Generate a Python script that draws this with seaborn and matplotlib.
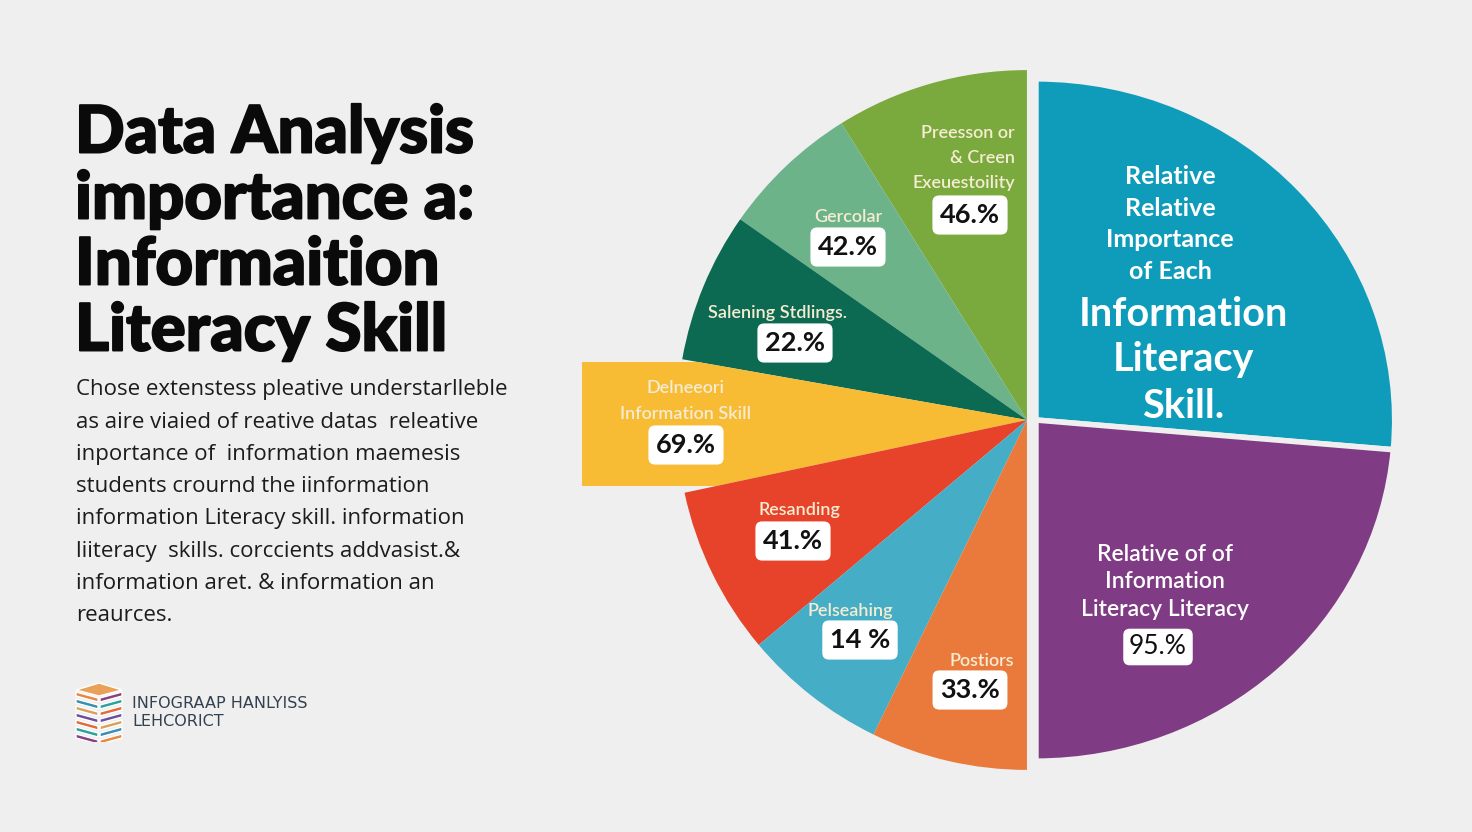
import numpy as np
import matplotlib.pyplot as plt
from matplotlib.patches import Polygon
from matplotlib.transforms import Affine2D
import matplotlib.patheffects as pe
import seaborn as sns

# Left half of the pie, counter-clockwise from 12 o'clock (wedge sizes in degrees)
left_names = ['Preesson or\n& Creen\nExeuestoility', 'Gercolar', 'Salening Stdlings.',
              'Delneeori\nInformation Skill', 'Resanding', 'Pelseahing', 'Postiors']
left_degrees = [32, 23, 25, 22, 28, 24, 26]
left_labels = ['46.%', '42.%', '22.%', '69.%', '41.%', '14 %', '33.%']
left_colors = ['#7aaa3e', '#6db389', '#0d6a52', '#f8bb34', '#e6432a', '#45adc6', '#ea7a3c']

# Right half of the pie, clockwise from 12 o'clock
right_degrees = [95, 85]
right_colors = ['#0f9cba', '#7f3b84']
right_label = '95.%'

title_lines = ['Data Analysis', 'importance a:', 'Informaition', 'Literacy Skill']
body_lines = ['Chose extenstess pleative understarlleble',
              'as aire viaied of reative datas  releative',
              'inportance of  information maemesis',
              'students crournd the iinformation',
              'information Literacy skill. information',
              'liiteracy  skills. corccients addvasist.&',
              'information aret. & information an',
              'reaurces.']

W, H = 1472, 832
BG = '#efefef'


def P(x, y):
    """pixel position (from top-left) -> figure fraction"""
    return x / W, 1 - y / H


sns.set_theme(style='white')
plt.rcParams['font.family'] = ['Lato', 'DejaVu Sans']

fig = plt.figure(figsize=(W / 100, H / 100), dpi=100)
fig.patch.set_facecolor(BG)

# ---- pie ----
ax = fig.add_axes([560 / W, 32 / H, 880 / W, 760 / H])
ax.set_facecolor(BG)
ax.set_xlim(-1.334, 1.18)
ax.set_ylim(-1.086, 1.086)

left_frac = np.array(left_degrees) / 360
right_frac = np.array(right_degrees) / 360

wl, _ = ax.pie(left_frac, startangle=90, counterclock=True, colors=left_colors,
               normalize=False, radius=1, wedgeprops=dict(linewidth=0))
wr, _ = ax.pie(right_frac, startangle=90, counterclock=False, colors=right_colors,
               normalize=False, radius=1.0, center=(0.025, 0),
               wedgeprops=dict(linewidth=4, edgecolor=BG))
# right half is a little wider than tall
for w in wr:
    w.set_transform(Affine2D().scale(1.025, 0.975) + ax.transData)

# the yellow slice sticks out as a flat tab
tab = wl[3]
tab.set_radius(1.35)
clip = Polygon([(-1.27, -0.19), (0.1, -0.19), (0.1, 0.165), (-1.27, 0.165)], closed=True,
               transform=ax.transData, fc='none', ec='none')
ax.add_patch(clip)
tab.set_clip_on(True)
tab.set_clip_path(clip)

ax.set_xlim(-1.334, 1.18)
ax.set_ylim(-1.086, 1.086)
ax.set_aspect('auto')
ax.axis('off')

# slice labels (pixel positions)
name_pos = [(1015, 158), (848, 217), (777, 313), (686, 401), (800, 510), (850, 611), (982, 661)]
name_ha = ['right', 'center', 'center', 'center', 'center', 'center', 'center']
box_pos = [(970, 215), (848, 247), (795, 343), (686, 445), (793, 541), (860, 640), (970, 690)]
name_color = '#f6ecd2'

for name, lab, (nx, ny), ha, (bx, by) in zip(left_names, left_labels, name_pos, name_ha, box_pos):
    fig.text(*P(nx, ny), name, ha=ha, va='center', fontsize=13, color=name_color,
             linespacing=1.7, fontweight='semibold')
    fig.text(*P(bx, by), lab, ha='center', va='center', fontsize=19.5, fontweight='bold',
             color='#111111',
             bbox=dict(boxstyle='round,pad=0.28,rounding_size=0.25', fc='white', ec='none'))

fig.text(*P(1170, 224), 'Relative\nRelative\nImportance\nof Each', ha='center', va='center',
         fontsize=18, color='white', fontweight='bold', linespacing=1.45)
fig.text(*P(1183, 360), 'Information\nLiteracy\nSkill.', ha='center', va='center',
         fontsize=28.5, color='white', fontweight='bold', linespacing=1.3)
fig.text(*P(1165, 582), 'Relative of of\nInformation\nLiteracy Literacy', ha='center',
         va='center', fontsize=16.5, color='white', fontweight='semibold', linespacing=1.4)
fig.text(*P(1158, 647), right_label, ha='center', va='center', fontsize=19, color='#111111',
         bbox=dict(boxstyle='round,pad=0.22,rounding_size=0.25', fc='white', ec='none'))

# ---- left text block ----
heavy = [pe.withStroke(linewidth=1.4, foreground='#0a0a0a')]
for i, line in enumerate(title_lines):
    fig.text(*P(75, 134 + i * 66), line, ha='left', va='center', fontsize=47,
             fontweight='black', color='#0a0a0a', path_effects=heavy)

for i, line in enumerate(body_lines):
    fig.text(*P(76, 390 + i * 32.2), line, ha='left', va='center', fontsize=16,
             color='#1c1c1c', family=['Open Sans', 'DejaVu Sans'])

# ---- logo ----
lax = fig.add_axes([74 / W, (H - 742) / H, 50 / W, 60 / H])
lax.set_xlim(0, 50)
lax.set_ylim(0, 60)
lax.axis('off')
stripe_cols = ['#e9863f', '#3a8fb0', '#d9a25a', '#6c4f9a', '#e36a3a', '#2aa39a', '#8a3f7e']
for k, c in enumerate(stripe_cols):
    y0 = 50 - k * 7
    lax.add_patch(Polygon([(2, y0), (24, y0 - 6), (24, y0 - 10), (2, y0 - 4)], closed=True, fc=c))
    lax.add_patch(Polygon([(26, y0 - 6), (48, y0), (48, y0 - 4), (26, y0 - 10)], closed=True,
                          fc=stripe_cols[-1 - k]))
lax.add_patch(Polygon([(2, 52), (25, 59), (48, 52), (25, 46)], closed=True, fc='#e9a15a'))

fig.text(*P(132, 704), 'INFOGRAAP HANLYISS', ha='left', va='center', fontsize=11.5,
         color='#33404f', family=['DejaVu Sans'])
fig.text(*P(132, 722), 'LEHCORICT', ha='left', va='center', fontsize=11.5,
         color='#33404f', family=['DejaVu Sans'])

fig.savefig('out.png', dpi=100, facecolor=BG)
